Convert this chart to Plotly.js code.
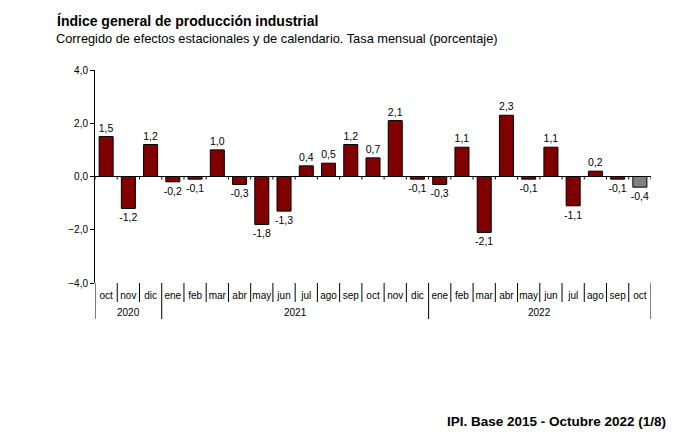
<!DOCTYPE html>
<html>
<head>
<meta charset="utf-8">
<script src="https://cdn.plot.ly/plotly-3.0.1.min.js"></script>
<style>html,body{margin:0;padding:0;background:#fff;}#chart{width:696px;height:446px;}</style>
</head>
<body>
<div id="chart"></div>
<script>
const months = ["oct","nov","dic","ene","feb","mar","abr","may","jun","jul","ago","sep","oct","nov","dic","ene","feb","mar","abr","may","jun","jul","ago","sep","oct"];
const years = ["2020","2020","2020","2021","2021","2021","2021","2021","2021","2021","2021","2021","2021","2021","2021","2022","2022","2022","2022","2022","2022","2022","2022","2022","2022"];
const values = [1.5,-1.2,1.2,-0.2,-0.1,1.0,-0.3,-1.8,-1.3,0.4,0.5,1.2,0.7,2.1,-0.1,-0.3,1.1,-2.1,2.3,-0.1,1.1,-1.1,0.2,-0.1,-0.4];
const yTicks = [-4,-2,0,2,4];

const FONT = "Liberation Sans, Arial, sans-serif";
const idx = months.map((_, i) => i);
const n = months.length;
const colors = idx.map(i => i === n - 1 ? "#808080" : "#800000");

const shapes = [];
for (let b = 0; b <= n; b++) {
  const xb = b - 0.5;
  const isYearBound = (b === 0 || b === n || years[b] !== years[b - 1]);
  shapes.push({type: "line", xref: "x", yref: "y", ysizemode: "pixel", yanchor: 0,
    x0: xb, x1: xb, y0: 0, y1: -3, line: {color: "#000", width: 1}});
  if (b > 0) {
    shapes.push({type: "line", xref: "x", yref: "paper", ysizemode: "pixel", yanchor: 0,
      x0: xb, x1: xb, y0: 0, y1: isYearBound ? -36 : -19, line: {color: "#000", width: 1}});
  }
}
shapes.push({type: "line", xref: "x", yref: "paper", ysizemode: "pixel", yanchor: 0,
  x0: -0.5, x1: -0.5, y0: 0, y1: -36, line: {color: "#000", width: 1}});

const annotations = [];
const uniqueYears = [...new Set(years)];
uniqueYears.forEach(y => {
  const ids = idx.filter(i => years[i] === y);
  const center = (ids[0] + ids[ids.length - 1]) / 2;
  annotations.push({text: y, x: center, xref: "x", y: 0, yref: "paper", yanchor: "middle",
    yshift: -29, showarrow: false, font: {family: FONT, size: 10, color: "#000"}});
});
annotations.push({text: "Corregido de efectos estacionales y de calendario. Tasa mensual (porcentaje)",
  xref: "paper", yref: "paper", x: -41 / 556, xanchor: "left", y: 1, yshift: 32, yanchor: "middle",
  showarrow: false, font: {family: FONT, size: 12.8, color: "#000"}});
annotations.push({text: "<b>IPI. Base 2015 - Octubre 2022 (1/8)</b>",
  xref: "paper", yref: "paper", x: 1, xanchor: "right", xshift: 17, y: 0, yshift: -138, yanchor: "middle",
  showarrow: false, font: {family: FONT, size: 13.5, color: "#000"}});

const trace = {
  type: "bar",
  x: idx,
  y: values,
  marker: {color: colors, line: {color: "#000", width: 1}},
  width: 0.63,
  text: values.map(v => v.toFixed(1).replace(".", ",")),
  textposition: "outside",
  constraintext: "none",
  textfont: {family: FONT, size: 10.5, color: "#000"},
  cliponaxis: false,
  hoverinfo: "skip"
};

const layout = {
  width: 696, height: 446,
  margin: {l: 95, r: 45, t: 70, b: 163},
  paper_bgcolor: "#fff", plot_bgcolor: "#fff",
  separators: ",.",
  showlegend: false,
  title: {text: "<b>Índice general de producción industrial</b>", x: 57 / 696, xanchor: "left",
    y: 1 - 21 / 446, yanchor: "middle", xref: "container", yref: "container",
    font: {family: FONT, size: 14, color: "#000"}},
  xaxis: {type: "linear", range: [-0.5, n - 0.5], tickvals: idx, ticktext: months,
    showgrid: false, zeroline: false, showline: false, ticks: "", ticklabelstandoff: 5,
    tickfont: {family: FONT, size: 10, color: "#000"}, fixedrange: true},
  yaxis: {range: [-4, 4], tickvals: yTicks, tickformat: ".1f", showgrid: false,
    zeroline: true, zerolinecolor: "#000", zerolinewidth: 1,
    showline: true, linecolor: "#000", linewidth: 1, ticks: "outside", ticklen: 4, tickcolor: "#000",
    tickfont: {family: FONT, size: 10, color: "#000"}, fixedrange: true},
  shapes: shapes,
  annotations: annotations
};

Plotly.newPlot("chart", [trace], layout, {displayModeBar: false, staticPlot: true});
</script>
</body>
</html>
